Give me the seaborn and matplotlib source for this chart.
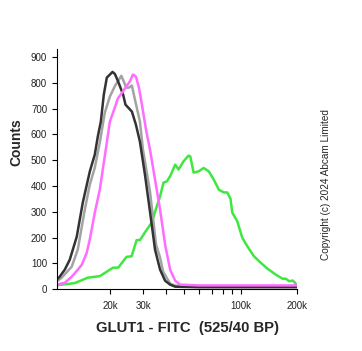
import numpy as np
import pandas as pd
import matplotlib
matplotlib.use("Agg")
import matplotlib.pyplot as plt
import seaborn as sns

# FITC intensity (x) and event counts
black_x = [10490, 10750, 11440, 12170, 13260, 14280, 15570, 16560, 17190, 17840,
           18510, 19210, 20610, 21210, 22070, 23480, 24170, 26160, 27490, 28880,
           30730, 32700, 34790, 37020, 39390, 41910, 44600, 60000, 100000, 200000]
black_y = [40, 48, 75, 114, 203, 335, 456, 522, 592, 650,
           755, 821, 843, 835, 806, 755, 716, 689, 638, 572,
           444, 300, 153, 75, 32, 17, 9, 7, 7, 7]

gray_x = [10490, 11020, 12470, 13430, 14640, 15570, 16560, 17620, 18740, 19940,
          21210, 22980, 24440, 25210, 26160, 27150, 28880, 29980, 32700, 35230,
          37020, 38440, 41910, 44600, 60000, 100000, 200000]
gray_y = [32, 44, 87, 153, 308, 405, 471, 569, 685, 747,
          788, 828, 782, 782, 790, 736, 650, 541, 378, 172,
          122, 67, 21, 13, 9, 9, 9]

pink_x = [10490, 10750, 11440, 12470, 13430, 14110, 15000, 15570, 16560, 17620,
          18280, 19210, 19940, 21210, 22010, 23410, 24170, 25520, 26510, 27490,
          28530, 29600, 31120, 32700, 34790, 37020, 39390, 41910, 44600, 47450,
          60000, 100000, 200000]
pink_y = [17, 20, 24, 48, 75, 94, 141, 192, 296, 386,
          464, 569, 650, 705, 740, 767, 782, 806, 833, 825,
          782, 716, 619, 541, 425, 308, 172, 75, 32, 17,
          14, 14, 14]

green_x = [10490, 10750, 12940, 15200, 17620, 19940, 20770, 22100, 24500, 26070,
           27730, 28880, 31390, 33400, 35540, 37020, 38590, 40240, 41910, 44600,
           46470, 49440, 52600, 53700, 55960, 59540, 63350, 67400, 71710, 76290,
           81170, 84650, 88170, 90040, 95800, 101900, 108400, 117700, 127900, 138900,
           153900, 167300, 174300, 181600, 189400, 194800, 199000]
green_y = [15, 16, 23, 44, 50, 75, 83, 83, 125, 127,
           190, 190, 230, 258, 321, 360, 413, 418, 438, 483,
           464, 496, 518, 515, 452, 457, 470, 457, 425, 386,
           375, 375, 350, 297, 263, 199, 166, 127, 102, 79,
           56, 40, 40, 30, 33, 25, 13]

major_ticks = [20000, 30000, 100000, 200000]
major_labels = ["20k", "30k", "100k", "200k"]
minor_ticks = [40000, 50000, 60000, 70000, 80000, 90000]
y_ticks = list(range(0, 1000, 100))

series = {"green": (green_x, green_y), "gray": (gray_x, gray_y),
          "black": (black_x, black_y), "pink": (pink_x, pink_y)}
frames = [pd.DataFrame({"fitc": xs, "count": ys, "sample": name})
          for name, (xs, ys) in series.items()]
df = pd.concat(frames, ignore_index=True)

palette = {"green": "#3fe83f", "gray": "#a3a3a3", "black": "#333333", "pink": "#ff6cff"}

sns.set_style("ticks")
plt.rcParams["font.family"] = ["Liberation Sans", "DejaVu Sans"]

fig = plt.figure(figsize=(3.62, 3.51), dpi=100)
ax = fig.add_axes([0.1575, 0.1766, 0.663, 0.6838])
ax.set_xscale("log")

sns.lineplot(data=df, x="fitc", y="count", hue="sample", palette=palette,
             hue_order=["green", "gray", "black", "pink"], estimator=None,
             sort=False, linewidth=1.8, legend=False, ax=ax,
             solid_joinstyle="round", solid_capstyle="round")

ax.set_xlim(10400, 200000)
ax.set_ylim(0, 932)
ax.set_xticks(major_ticks)
ax.set_xticklabels(major_labels)
ax.set_xticks(minor_ticks, minor=True)
ax.set_xticklabels([""] * len(minor_ticks), minor=True)
ax.set_yticks(y_ticks)
ax.tick_params(axis="both", which="both", direction="out", length=3.6,
               width=0.8, colors="black", labelsize=7, labelcolor="#222222")
ax.tick_params(axis="x", pad=5)
for side in ["left", "bottom"]:
    ax.spines[side].set_linewidth(0.8)
    ax.spines[side].set_color("black")
sns.despine(ax=ax)
ax.set_xlabel("")
ax.set_ylabel("")

fig.text(187.5 / 362, 1 - 328 / 351, "GLUT1 - FITC  (525/40 BP)",
         ha="center", va="center", fontsize=10.7, fontweight="bold")
fig.text(16 / 362, 1 - 142 / 351, "Counts", rotation=90,
         ha="center", va="center", fontsize=10, fontweight="bold")
fig.text(326 / 362, 1 - 185 / 351, "Copyright (c) 2024 Abcam Limited",
         rotation=90, ha="center", va="center", fontsize=7.2)

fig.savefig("out.png", dpi=100)
